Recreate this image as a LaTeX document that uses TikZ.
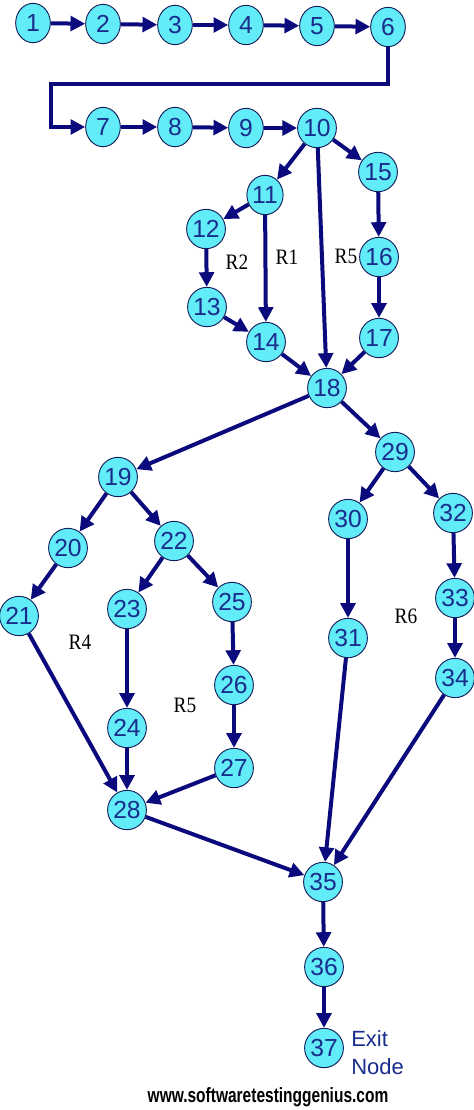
\documentclass[tikz,border=0pt]{standalone}
\usepackage{fontspec}
\usepackage{graphicx}
\setmainfont{Liberation Sans}
\newfontfamily\regionfont{Liberation Serif}
\usetikzlibrary{shapes.geometric, arrows.meta}
\definecolor{nodecyan}{RGB}{98,236,248}
\definecolor{edgenavy}{RGB}{10,10,125}
\definecolor{numblue}{RGB}{25,45,140}
\definecolor{rimblue}{RGB}{20,30,90}
\tikzset{
	vtx/.style={ellipse, draw=rimblue, line width=0.7pt, fill=nodecyan, inner sep=0pt,
		minimum width=26pt, minimum height=29.5pt, text=numblue, font=\fontsize{18.5}{18.5}\selectfont},
	edge/.style={draw=edgenavy, line width=3pt, -{Triangle[length=11pt, width=11pt]}},
	region/.style={font=\regionfont\fontsize{16.5}{16.5}\selectfont, text=black}
}
\newcommand{\reglabel}[1]{\scalebox{0.88}[1]{#1}}
\begin{document}
\begin{tikzpicture}[x=0.75pt, y=-0.75pt]
		\useasboundingbox (0,0) rectangle (474,1110);
		
		% nodes of the flow graph
		\foreach \n/\x/\y in {1/33/23, 2/103/24, 3/175/25, 4/246/25, 5/317/26, 6/388/27,
			7/103/127, 8/175/127, 9/246/128, 10/317/128,
			11/265/195, 12/206/229, 13/207/307, 14/266/342,
			15/378/172, 16/379/257, 17/379/338, 18/327/388,
			19/118/477, 20/68/548, 21/19/616, 22/174/541, 23/127/609, 24/127/728,
			25/232/602, 26/234/685, 27/234/768, 28/127/810,
			29/395/452, 30/348/519, 31/348/638, 32/453/513, 33/455/598, 34/455/678,
			35/323/882, 36/324/967, 37/324/1048}
		{
			\node[vtx] (n\n) at (\x,\y) {\n};
		}
		
		% edges
		\foreach \a/\b in {1/2, 2/3, 3/4, 4/5, 5/6, 7/8, 8/9, 9/10,
			10/11, 10/15, 10/18, 11/12, 11/14, 12/13, 13/14, 14/18,
			15/16, 16/17, 17/18, 18/19, 18/29,
			19/20, 19/22, 20/21, 21/28, 22/23, 22/25, 23/24, 24/28,
			25/26, 26/27, 27/28, 28/35,
			29/30, 29/32, 30/31, 31/35, 32/33, 33/34, 34/35,
			35/36, 36/37}
		{
			\draw[edge] (n\a) -- (n\b);
		}
		
		% return line from 6 to 7
		\coordinate (bendR) at (388,84);
		\coordinate (bendL) at (51,84);
		\draw[edge] (n6) -- (bendR) -- (bendL) |- (n7);
		
		% regions
		\node[region] (r2) at (237,262) {\reglabel{R2}};
		\node[region] (r1) at (287,257) {\reglabel{R1}};
		\node[region] (r5a) at (346,256) {\reglabel{R5}};
		\node[region] (r4) at (80,642) {\reglabel{R4}};
		\node[region] (r5b) at (185,705) {\reglabel{R5}};
		\node[region] (r6) at (406,616) {\reglabel{R6}};
		
		\node[anchor=west, align=left, inner sep=0pt, text=numblue, font=\fontsize{16.5}{21}\selectfont] (exit) at (351,1053) {Exit\\Node};
		
		\node[inner sep=0pt, font=\bfseries\fontsize{15.5}{15.5}\selectfont] (site) at (268,1097) {\scalebox{0.75}[1]{www.softwaretestinggenius.com}};
	\end{tikzpicture}
\end{document}
